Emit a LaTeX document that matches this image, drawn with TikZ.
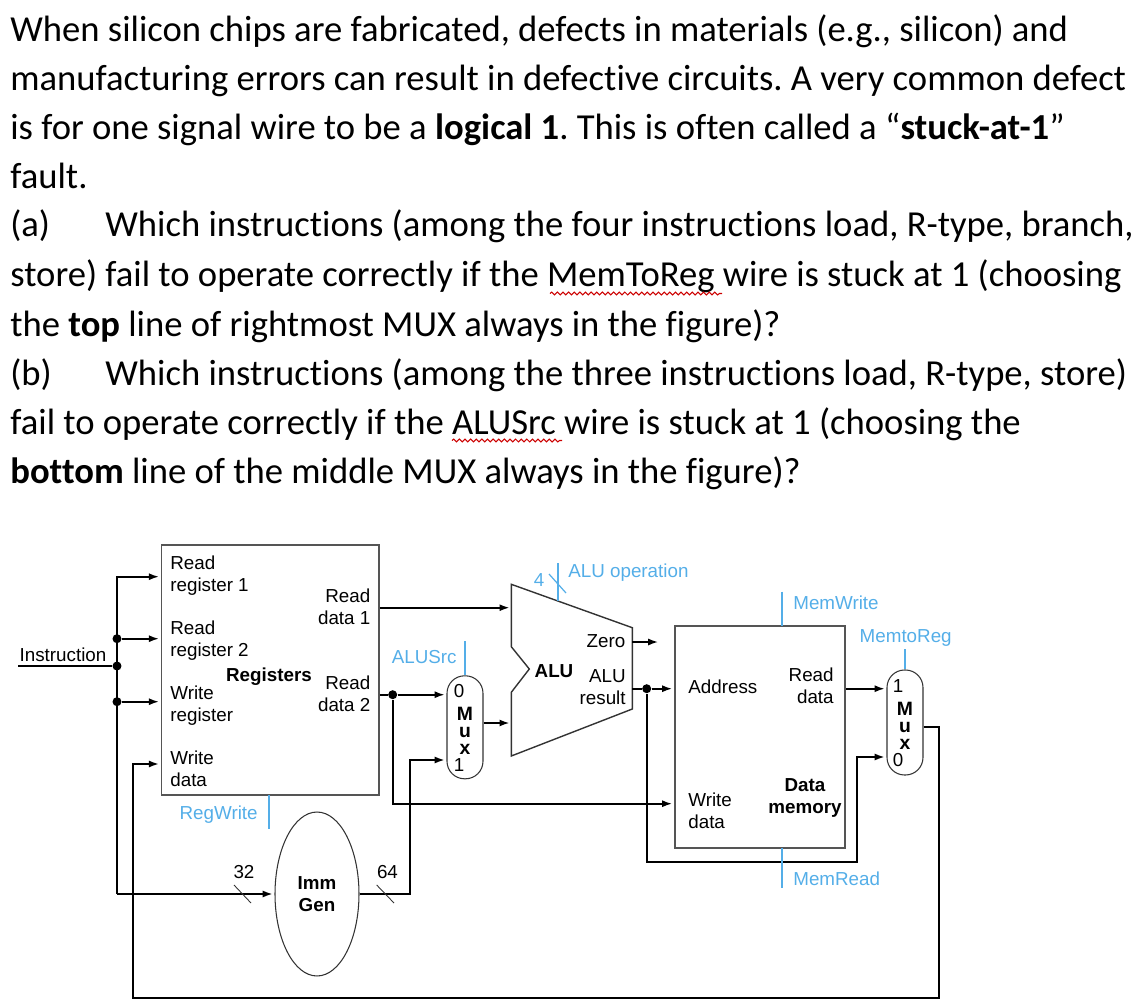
\documentclass[tikz,border=0pt]{standalone}
\usepackage{fontspec}
\setmainfont[Ligatures=NoCommon]{Carlito}
\newfontfamily\diagfont{Liberation Sans}
\usetikzlibrary{arrows.meta,shapes.geometric,decorations.pathmorphing}
\definecolor{ctrlblue}{RGB}{84,174,232}
\definecolor{boxgray}{RGB}{85,85,85}
\frenchspacing
\tikzset{
  line/.style={anchor=base west, inner sep=0pt, font=\fontsize{20.85}{25}\selectfont},
  lbl/.style={inner sep=0pt, align=left, font=\diagfont\fontsize{10.7}{12.5}\selectfont},
  lblb/.style={lbl, font=\diagfont\bfseries\fontsize{10.7}{12.5}\selectfont},
  muxtxt/.style={lbl, align=center, font=\diagfont\bfseries\fontsize{11}{9.6}\selectfont},
  ctrl/.style={lbl, text=ctrlblue},
  block/.style={draw=boxgray, line width=0.9pt, inner sep=0pt},
  muxbox/.style={draw=black!80, line width=0.6pt, rounded corners=0.35cm, minimum width=0.72cm, inner sep=0pt},
  sig/.style={line width=1pt, -{Latex[length=2mm,width=1.4mm]}, shorten >=1pt},
  wire/.style={line width=1pt},
  ctrlwire/.style={ctrlblue, line width=0.7pt},
  dot/.style={circle, fill=black, inner sep=0pt, minimum size=0.18cm},
  squig/.style={red!80!black, line width=0.6pt, decorate, decoration={snake, amplitude=0.8pt, segment length=3.2pt}}
}
\begin{document}
\begin{tikzpicture}[x=0.02cm, y=-0.02cm]
  \useasboundingbox (0,0) rectangle (1144,1008);
  \node [line] (t1) at (10,41.5) {When silicon chips are fabricated, defects in materials (e.g., silicon) and};
  \node [line] (t2) at (10,90.5) {manufacturing errors can result in defective circuits. A very common defect};
  \node [line] (t3) at (10,139.5) {is for one signal wire to be a \textbf{logical 1}. This is often called a “\textbf{stuck-at-1}”};
  \node [line] (t4) at (10,188.5) {fault.};
  \node [line] (t5a) at (10,236.5) {(a)};
  \node [line] (t5) at (105,236.5) {Which instructions (among the four instructions load, R-type, branch,};
  \node [line] (t6) at (10,286.5) {store) fail to operate correctly if the MemToReg wire is stuck at 1 (choosing};
  \node [line] (t7) at (10,336) {the \textbf{top} line of rightmost MUX always in the figure)?};
  \node [line] (t8a) at (10,385) {(b)};
  \node [line] (t8) at (105,385) {Which instructions (among the three instructions load, R-type, store)};
  \node [line] (t9) at (10,434.5) {fail to operate correctly if the ALUSrc wire is stuck at 1 (choosing the};
  \node [line] (t10) at (10,483) {\textbf{bottom} line of the middle MUX always in the figure)?};
  \draw [squig] (550,293.5) -- (722,293.5);
  \draw [squig] (452,440.5) -- (562,440.5);

  \node [block, minimum width=4.35cm, minimum height=5cm] (regs) at (270.25,670) {};
  \node [block, minimum width=3.41cm, minimum height=4.45cm] (dmem) at (760,737) {};
  \node [draw=black!80, line width=0.6pt, ellipse, minimum width=1.68cm, minimum height=3.28cm, inner sep=0pt, lblb, align=center] (imm) at (317,894) {Imm\\Gen};
  \node [muxbox, minimum height=2.06cm] (muxa) at (465,727.3) {};
  \node [muxbox, minimum height=2.1cm] (muxb) at (905,722.5) {};
  \draw [draw=black!80, line width=0.8pt] (511.3,584.3) coordinate (alua) -- (632.3,627.7) coordinate (alub) -- (632.3,709) coordinate (aluc) -- (511.3,756) coordinate (alud) -- (511.3,692.3) -- (529.3,669) -- (511.3,646.7) -- cycle;

  \node [lbl, anchor=west] (rr1) at (170,576) {Read\\register 1};
  \node [lbl, anchor=west] (rr2) at (170,641) {Read\\register 2};
  \node [lbl, anchor=west] (wreg) at (170,706) {Write\\register};
  \node [lbl, anchor=west] (wdat) at (170,769) {Write\\data};
  \node [lbl, anchor=east, align=right] (rd1) at (370.7,607) {Read\\data 1};
  \node [lbl, anchor=east, align=right] (rd2) at (370.7,694) {Read\\data 2};
  \node [lblb] (rname) at (269,677) {Registers};
  \node [lbl] (instr) at (63,655) {Instruction};
  \node [lbl] (n32) at (244,872) {32};
  \node [lbl] (n64) at (387.5,872) {64};
  \node [lblb] (aluname) at (554,671) {ALU};
  \node [lbl, anchor=east] (zero) at (625.7,640.7) {Zero};
  \node [lbl, anchor=east, align=right] (alures) at (626,686.7) {ALU\\result};
  \node [lbl, anchor=west] (addr) at (688,687) {Address};
  \node [lbl, anchor=east, align=right] (mrd) at (834,686) {Read\\data};
  \node [lbl, anchor=west] (mwd) at (688,810.7) {Write\\data};
  \node [lblb, align=center] (mname) at (805,798) {Data\\memory};

  \node [lbl] (ma0) at (459,690.7) {0};
  \node [muxtxt] (matxt) at (465,731) {M\\u\\x};
  \node [lbl] (ma1) at (459,764.7) {1};
  \node [lbl] (mb1) at (898,686) {1};
  \node [muxtxt] (mbtxt) at (905,725.5) {M\\u\\x};
  \node [lbl] (mb0) at (898,760) {0};

  \node [ctrl, anchor=east] (alusrc) at (457,657) {ALUSrc};
  \node [ctrl, anchor=east] (regwrite) at (258,815) {RegWrite};
  \node [ctrl, anchor=west] (aluop) at (568,572.5) {ALU operation};
  \node [ctrl] (four) at (539,580) {4};
  \node [ctrl, anchor=west] (memwrite) at (793,603) {MemWrite};
  \node [ctrl] (memtoreg) at (905.7,638) {MemtoReg};
  \node [ctrl, anchor=west] (memread) at (793,879) {MemRead};

  \node [dot] (jb) at (117,638.7) {};
  \node [dot] (jc) at (117,666) {};
  \node [dot] (jd) at (117,701.7) {};
  \node [dot] (je) at (392.7,694.7) {};
  \node [dot] (jf) at (646.7,688.7) {};

  \coordinate (ptop) at (117,576.7);
  \coordinate (pbot) at (117,894);
  \coordinate (instrin) at (18,666);
  \coordinate (wdin) at (133,764);
  \coordinate (fbl) at (133,998);
  \coordinate (fbr) at (939,998);
  \coordinate (fbt) at (939,727);
  \coordinate (immr) at (410,894);
  \coordinate (immt) at (410,760);
  \coordinate (resb) at (646.7,862);
  \coordinate (resr) at (856.7,862);
  \coordinate (rest) at (856.7,757);
  \coordinate (wdb) at (392.7,803.7);
  \coordinate (alutop) at (511.3,607.7);
  \coordinate (alubot) at (511.3,723);
  \coordinate (zerot) at (660,642);

  \draw [wire] (instrin) -- (jc);
  \draw [wire] (jc.center) -- (jb.center);
  \draw [sig] (pbot) -- (ptop) -- (ptop -| regs.west);
  \draw [sig] (jb) -- (jb -| regs.west);
  \draw [sig] (jd) -- (jd -| regs.west);
  \draw [sig] (pbot) -- (imm.west);
  \draw [sig] (fbt -| muxb.east) -- (fbt) -- (fbr) -- (fbl) -- (wdin) -- (wdin -| regs.west);
  \draw [sig] (alutop -| regs.east) -- (alutop);
  \draw [wire] (je -| regs.east) -- (je);
  \draw [sig] (je) -- (je -| muxa.west);
  \draw [sig] (je) -- (wdb) -- (wdb -| dmem.west);
  \draw [sig] (imm.east) -- (immr) -- (immt) -- (immt -| muxa.west);
  \draw [sig] (alubot -| muxa.east) -- (alubot);
  \draw [sig] (zerot -| alub) -- (zerot);
  \draw [wire] (jf -| alub) -- (jf);
  \draw [sig] (jf) -- (jf -| dmem.west);
  \draw [sig] (jf) -- (resb) -- (resr) -- (rest) -- (rest -| muxb.west);
  \draw [sig] (jf -| dmem.east) -- (jf -| muxb.west);

  \draw [black!80, line width=0.5pt] (234,885) -- (251,903);
  \draw [black!80, line width=0.5pt] (376.7,885) -- (394,903);
  \draw [ctrlwire] (465,641) -- (muxa.north);
  \draw [ctrlwire] (269,795) -- (269,829);
  \draw [ctrlwire] (558,563) -- (558,600.7);
  \draw [ctrlwire] (549,574) -- (566,593);
  \draw [ctrlwire] (782,591.7) -- (782,625.7);
  \draw [ctrlwire] (905,649) -- (muxb.north);
  \draw [ctrlwire] (782,848) -- (782,887.7);
\end{tikzpicture}
\end{document}
